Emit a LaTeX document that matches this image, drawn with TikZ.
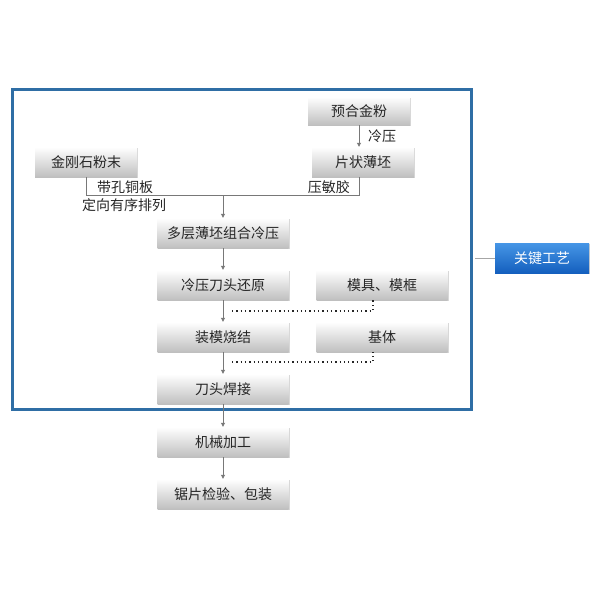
\documentclass[tikz,border=0pt]{standalone}
\usepackage{fontspec}
\setmainfont{Noto Sans CJK SC}
\usetikzlibrary{shadows,arrows.meta}
\definecolor{framecol}{RGB}{47,110,165}
\definecolor{linecol}{RGB}{120,120,120}
\definecolor{bluetop}{RGB}{70,150,230}
\definecolor{bluebot}{RGB}{20,95,190}
\tikzset{
  procbox/.style={rectangle, minimum width=131pt, minimum height=30pt, inner sep=0pt,
    top color=white, bottom color=black!25, draw=none,
    drop shadow={shadow xshift=1.2pt, shadow yshift=-1.2pt, fill=black!25, opacity=0.6},
    font=\fontsize{14}{14}\selectfont, text=black!85},
  keybox/.style={rectangle, minimum width=94pt, minimum height=30pt, inner sep=0pt,
    top color=bluetop, bottom color=bluebot, draw=none,
    drop shadow={shadow xshift=1.2pt, shadow yshift=-1.2pt, fill=black!30, opacity=0.6},
    font=\fontsize{14}{14}\selectfont, text=white},
  conn/.style={draw=linecol, line width=0.8pt},
  arr/.style={conn, -{Triangle[length=4pt,width=4pt]}},
  dots/.style={draw=black!85, line width=1.3pt, dash pattern=on 1.3pt off 3pt},
  lbl/.style={font=\fontsize{14}{14}\selectfont, text=black!85, inner sep=0pt}
}
\begin{document}
\begin{tikzpicture}[x=1pt,y=-1pt]
\useasboundingbox (0,0) rectangle (600,600);
\fill[white] (0,0) rectangle (600,600);
% frame
\draw[framecol, line width=3pt] (12,89) rectangle (471,409);
% boxes
\node[procbox, minimum width=102pt, minimum height=28pt] (yuhe) at (359,111) {预合金粉};
\node[procbox, minimum width=102pt] (pian) at (363,162) {片状薄坯};
\node[procbox, minimum width=102pt] (jgs) at (86,162) {金刚石粉末};
\node[procbox] (duo) at (223,233) {多层薄坯组合冷压};
\node[procbox] (leng) at (223,285) {冷压刀头还原};
\node[procbox] (moju) at (382,285) {模具、模框};
\node[procbox] (zhuang) at (223,337) {装模烧结};
\node[procbox] (jiti) at (382,337) {基体};
\node[procbox] (dao) at (223,389) {刀头焊接};
\node[procbox] (jixie) at (223,442) {机械加工};
\node[procbox] (ju) at (223,494) {锯片检验、包装};
\node[keybox] (key) at (542,258) {关键工艺};
% coordinates
\coordinate (jL) at (86,195);
\coordinate (pR) at (359,195);
\coordinate (mid) at (223,195);
\coordinate (d1a) at (232,311);
\coordinate (d1b) at (373,311);
\coordinate (d2a) at (232,362);
\coordinate (d2b) at (373,362);
\coordinate (keyL) at (475,258);
% connectors
\draw[arr] (yuhe.south -| 359,0) -- (pian.north -| 359,0);
\node[lbl, anchor=west] (lengya) at (368,136) {冷压};
\draw[conn] (jgs.south) -- (jL) -- (pR) -- (pian.south -| pR);
\draw[arr] (mid) -- (duo.north);
\node[lbl, anchor=west] (daikong) at (97,187) {带孔铜板};
\node[lbl, anchor=west] (dingxiang) at (82,205) {定向有序排列};
\node[lbl, anchor=east] (yamin) at (350,187) {压敏胶};
\draw[arr] (duo.south) -- (leng.north);
\draw[arr] (leng.south) -- (zhuang.north);
\draw[arr] (zhuang.south) -- (dao.north);
\draw[arr] (dao.south) -- (jixie.north);
\draw[arr] (jixie.south) -- (ju.north);
\draw[dots] (d1a) -- (d1b) -- (moju.south -| d1b);
\draw[dots] (d2a) -- (d2b) -- (jiti.south -| d2b);
\draw[draw=black!35, line width=0.8pt] (keyL) -- (key.west);
\end{tikzpicture}
\end{document}
